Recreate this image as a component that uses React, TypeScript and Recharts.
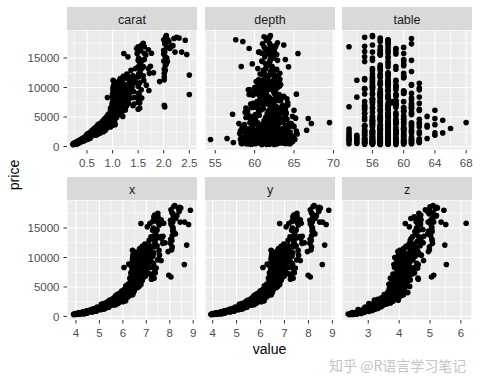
import { CartesianGrid, Scatter, ScatterChart, XAxis, YAxis } from "recharts";

// diamonds sample: one entry per stone, same order in every array
const carat = [
  0.23, 0.23, 0.24, 0.25, 0.25, 0.26, 0.26, 0.27, 0.28, 0.28, 0.29, 0.3, 0.3, 0.3, 0.31, 0.31, 0.32, 0.32, 0.33, 0.33,
  0.34, 0.34, 0.35, 0.35, 0.36, 0.36, 0.37, 0.38, 0.38, 0.39, 0.4, 0.4, 0.4, 0.41, 0.41, 0.24, 0.27, 0.29, 0.31, 0.32,
  0.34, 0.31, 0.4,
  0.42, 0.43, 0.45, 0.45, 0.46, 0.47, 0.5, 0.5, 0.5, 0.51, 0.51, 0.52, 0.52, 0.53, 0.54, 0.54, 0.55, 0.56, 0.56, 0.57,
  0.58, 0.58, 0.6, 0.6, 0.61, 0.62, 0.62, 0.48, 0.44, 0.52, 0.57, 0.55, 0.6, 0.5, 0.55,
  0.65, 0.66, 0.68, 0.7, 0.7, 0.7, 0.71, 0.71, 0.72, 0.72, 0.73, 0.74, 0.75, 0.75, 0.76, 0.77, 0.78, 0.79, 0.8, 0.8,
  0.81, 0.82, 0.83, 0.84, 0.85, 0.86, 0.88, 0.89, 0.9, 0.9, 0.9, 0.67, 0.74, 0.78, 0.86, 0.64, 0.82, 0.88, 0.76, 0.69,
  0.71, 0.82, 0.9,
  0.91, 0.92, 0.93, 0.95, 0.97, 0.99, 1.0, 1.0, 1.0, 1.0, 1.01, 1.01, 1.01, 1.02, 1.02, 1.02, 1.03, 1.03, 1.04, 1.04,
  1.05, 1.05, 1.06, 1.07, 1.07, 1.08, 1.09, 1.1, 1.1, 1.11, 1.12, 1.12, 0.96, 1.01, 1.0, 1.02, 1.05, 1.03, 1.04, 1.02,
  1.01, 1.0, 1.01, 0.95, 1.01, 1.0, 0.98, 1.06, 1.04, 0.95, 1.04, 1.03, 1.1, 1.07, 0.95,
  1.14, 1.15, 1.17, 1.18, 1.2, 1.2, 1.21, 1.22, 1.22, 1.24, 1.25, 1.26, 1.28, 1.3, 1.3, 1.31, 1.33, 1.35, 1.36, 1.38,
  1.4, 1.4, 1.2, 1.27, 1.2, 1.14, 1.2, 1.15, 1.3,
  1.5, 1.5, 1.5, 1.5, 1.51, 1.51, 1.52, 1.52, 1.53, 1.54, 1.55, 1.56, 1.57, 1.58, 1.6, 1.61, 1.62, 1.65, 1.7, 1.71,
  1.72, 1.74, 1.45, 1.42, 1.47, 1.48, 1.62, 1.5, 1.58, 1.6,
  1.92, 2.0, 2.0, 2.0, 2.01, 2.01, 2.01, 2.02, 2.02, 2.03, 2.04, 2.05, 2.05, 2.06, 2.1, 2.14, 2.2, 2.22, 2.25, 2.42,
  2.45, 2.5, 2.5, 2.35, 1.8, 1.76, 2.07, 2.03, 2.08,
  0.3, 0.31, 0.33, 0.35, 0.38, 0.4, 0.42, 0.43, 0.44, 0.45,
  0.46, 0.48, 0.5, 0.5, 0.52, 0.53, 0.55, 0.56, 0.58, 0.59,
  0.6, 0.62, 0.63, 0.65, 0.66, 0.68, 0.7, 0.7, 0.72, 0.74,
  0.76, 0.77, 0.79, 0.8, 0.81, 0.83, 0.85, 0.87, 0.9, 0.91,
  0.96, 0.98, 1.0, 1.0, 1.0, 1.01, 1.01, 1.02, 1.02, 1.03,
  1.03, 1.04, 1.04, 1.05, 1.05, 1.06, 1.07, 1.08, 1.09, 1.1,
  1.11, 1.12, 1.13, 1.14, 1.15, 1.16, 1.18, 1.19, 1.2, 1.2,
  1.21, 1.22, 1.23, 1.24, 1.25, 1.27, 1.29, 1.3, 1.32, 1.34,
  1.4, 1.42, 1.45, 1.5, 1.5, 1.5, 1.51, 1.52, 1.53, 1.55,
  1.57, 1.6, 1.62, 1.66, 1.7, 2.0, 2.01, 2.02, 2.03, 2.04,
  2.01, 2.06, 2.12, 2.18, 2.3, 0.23, 0.25, 0.26, 0.28, 0.29,
  0.3, 0.32, 0.33, 0.34, 0.36, 0.37, 0.39, 0.4, 0.41, 0.43,
  0.45, 0.47, 0.5, 0.51, 0.53, 0.54, 0.57, 0.58, 0.61, 0.63,
  0.7, 0.72, 0.73, 0.75, 0.78, 0.8, 0.82, 0.84, 0.86, 0.88,
  0.9, 0.92, 0.94, 0.96, 0.97, 0.99, 1.0, 1.01, 1.02, 1.03,
  0.32, 0.35, 0.38, 0.41, 0.44, 0.47, 0.5, 0.52, 0.55, 0.58,
  0.6, 0.62, 0.65, 0.68, 0.7, 0.71, 0.73, 0.75, 0.77, 0.8,
  0.81, 0.83, 0.86, 0.88, 0.9, 0.91, 0.93, 0.95, 0.97, 0.99,
  1.0, 1.0, 1.0, 1.01, 1.01, 1.01, 1.02, 1.02, 1.03, 1.03,
  1.04, 1.04, 1.05, 1.05, 1.06, 1.07, 1.08, 1.09, 1.1, 1.1,
  1.11, 1.12, 1.13, 1.15, 1.16, 1.18, 1.19, 1.21, 1.23, 1.25,
  0.26, 0.28, 0.3, 0.31, 0.33, 0.35, 0.37, 0.39, 0.42, 0.46,
  1.3, 1.32, 1.35, 1.38, 1.41, 1.45, 1.5, 1.51, 1.53, 1.54
];

const price = [
  360, 430, 480, 390, 560, 520, 450, 620, 580, 470, 680, 540, 710, 630, 760, 590, 820, 690, 870, 740,
  800, 930, 860, 980, 900, 1050, 950, 1010, 860, 1100, 980, 1190, 1120, 1240, 1060, 350, 400, 500, 480, 560,
  540, 600, 950,
  1150, 1300, 1350, 1420, 1250, 1500, 1380, 1620, 1780, 1550, 1900, 1700, 1460, 1850, 2000, 1600, 2100, 1750, 2250, 1950,
  2300, 2050, 2400, 2150, 2550, 2250, 2700, 1150, 950, 1250, 1550, 1350, 1900, 1220, 1700,
  2400, 2700, 2200, 2850, 2550, 3100, 2700, 3300, 2950, 2450, 3200, 2800, 3450, 2650, 3000, 3600, 3150, 3500, 3750, 3050,
  3900, 3350, 4100, 3600, 4300, 3800, 4550, 4000, 4800, 8300, 3400, 1900, 2300, 2600, 2760, 2950, 2500, 3050, 2300, 2050,
  2300, 2650, 4500,
  3600, 4300, 5100, 4700, 5600, 4200, 5000, 6200, 3900, 7100, 8000, 5500, 9200, 4600, 10300, 6800, 11000, 7600, 5900, 8700,
  9800, 4800, 7300, 10700, 6400, 8400, 5300, 9500, 7800, 6000, 10100, 8900, 3300, 5100, 3600, 4750, 3700, 6150, 4450, 4050,
  3900, 6730, 8360, 5470, 11240, 8870, 6300, 9900, 4000, 5100, 5800, 7600, 9000, 9000, 3900,
  7000, 11500, 5800, 8600, 9900, 6600, 11900, 15760, 7900, 10500, 6200, 8800, 12300, 15200, 9300, 7300, 11000, 8200, 12900, 10000,
  6900, 12000, 5100, 11600, 10500, 10700, 7600, 7400, 12000,
  16900, 13500, 10200, 7500, 15000, 11800, 8800, 14400, 6500, 12700, 16200, 9600, 17200, 13300, 17500, 11200, 14750, 15500, 13200, 9500,
  12400, 13600, 10900, 8300, 16600, 15760, 16900, 16100, 14600, 13560,
  11000, 18100, 16300, 14500, 13100, 11800, 7000, 6700, 17400, 15200, 18600, 18800, 14000, 16800, 17800, 17000, 18300, 16000, 18500, 18000,
  15600, 12100, 8800, 16000, 12500, 15800, 14400, 12900, 18100,
  450, 520, 600, 700, 760, 850, 900, 1050, 1180, 1000,
  1350, 1450, 1250, 2050, 1950, 1550, 2300, 1450, 2500, 1850,
  2650, 2000, 2900, 2100, 3150, 2600, 3500, 2300, 3700, 2500,
  3400, 2800, 4000, 3300, 4300, 3100, 4700, 3500, 5200, 4000,
  6100, 4500, 5800, 8500, 4400, 7400, 9700, 5200, 7900, 10500,
  4200, 6600, 9400, 5600, 8200, 10900, 6900, 4900, 8000, 10400,
  5600, 9200, 6500, 11200, 8100, 5400, 9700, 7100, 11300, 8400,
  6100, 9600, 7200, 11800, 8700, 6800, 10200, 7800, 11400, 9100,
  10700, 7200, 13200, 9000, 14600, 6300, 12300, 16500, 10800, 14000,
  8200, 12000, 15800, 10400, 16400, 15700, 12400, 16000, 13700, 17600,
  11300, 15000, 16600, 17100, 18400, 340, 470, 380, 640, 560,
  800, 660, 950, 720, 1100, 820, 1200, 900, 1350, 1100,
  1600, 1250, 1900, 1400, 2200, 1750, 2400, 1650, 2800, 2350,
  2000, 3300, 2600, 3900, 3000, 4200, 3700, 4600, 4200, 5000,
  3800, 5500, 4400, 6500, 3700, 7200, 4600, 10000, 5700, 8800,
  700, 820, 950, 1000, 1300, 1150, 1500, 2100, 1600, 2200,
  1950, 2500, 2300, 2900, 2600, 3200, 2400, 3100, 3500, 2900,
  3600, 4400, 3300, 4100, 3600, 5000, 4700, 3800, 5300, 4900,
  5300, 6500, 7600, 4300, 6000, 8800, 7000, 9500, 5400, 6600,
  7700, 10100, 6300, 9000, 5900, 8300, 7000, 9800, 6400, 8500,
  7400, 6300, 10000, 7800, 9400, 6800, 10600, 8800, 10100, 7500,
  420, 520, 600, 650, 680, 760, 880, 1000, 1100, 1200,
  8600, 10500, 9600, 11500, 9300, 11700, 8200, 10500, 7400, 13800
];

const depth = [
  61.5, 59.0, 62.8, 61.9, 59.6, 62.4, 61.0, 63.2, 60.7, 61.8, 57.3, 62.1, 61.3, 60.4, 62.6, 63.5, 61.7, 59.2, 62.0, 64.1,
  61.4, 60.9, 62.3, 61.1, 63.0, 58.8, 61.6, 62.2, 61.9, 60.6, 62.7, 54.4, 61.2, 63.4, 59.9, 62.5, 61.6, 62.9, 60.1, 61.2,
  61.7, 62.9, 60.5,
  61.8, 62.4, 56.5, 61.0, 62.9, 60.7, 63.6, 61.9, 61.2, 62.4, 60.3, 62.0, 64.2, 61.5, 62.3, 59.4, 61.8, 62.6, 60.8, 61.3,
  62.1, 63.3, 61.7, 60.2, 62.5, 61.4, 59.8, 61.6, 62.2, 60.9, 58.3, 62.7, 61.1, 62.1, 61.9,
  62.0, 61.3, 63.8, 61.6, 62.4, 60.5, 62.8, 61.2, 61.9, 64.5, 62.2, 60.0, 61.5, 63.1, 62.7, 61.8, 59.6, 62.3, 61.0, 63.5,
  62.1, 60.7, 61.6, 62.9, 61.4, 63.0, 61.9, 60.4, 62.2, 61.7, 65.0, 62.0, 62.5, 65.3, 66.6, 61.0, 61.3, 62.6, 64.0, 60.3,
  62.0, 58.2, 62.3,
  62.8, 61.3, 59.4, 63.4, 61.6, 62.4, 63.9, 60.8, 64.6, 62.2, 61.4, 63.1, 60.0, 59.5, 63.2, 62.7, 60.2, 60.3, 63.6, 59.8,
  61.5, 65.2, 62.1, 61.0, 62.9, 61.8, 60.6, 62.4, 63.3, 59.1, 61.6, 62.6, 64.3, 62.1, 63.9, 66.8, 64.3, 65.0, 62.4, 69.5,
  67.2, 62.0, 61.4, 57.2, 62.6, 65.3, 62.3, 61.0, 62.7, 61.6, 62.2, 61.8, 61.5, 60.0, 58.0,
  62.0, 61.5, 63.4, 61.2, 62.5, 60.4, 61.7, 61.6, 62.8, 61.9, 63.6, 60.9, 62.1, 61.3, 62.4, 59.8, 61.8, 62.9, 61.1, 62.2,
  60.0, 61.6, 64.8, 62.5, 62.3, 61.4, 62.5, 61.8, 61.2,
  61.2, 64.3, 62.0, 60.6, 62.4, 61.7, 63.1, 61.0, 62.7, 62.0, 61.5, 59.4, 63.7, 62.3, 61.9, 60.8, 63.9, 62.0, 61.4, 62.6,
  61.2, 62.2, 62.1, 63.0, 59.3, 65.5, 62.0, 62.5, 62.0, 58.3,
  62.3, 61.7, 62.4, 60.9, 62.8, 61.4, 64.2, 62.6, 61.0, 62.1, 61.2, 62.0, 59.7, 62.6, 58.5, 62.3, 61.6, 60.5, 61.9, 61.5,
  62.8, 63.0, 62.9, 62.3, 61.2, 61.7, 61.9, 62.5, 57.6,
  58.4, 64.2, 59.1, 63.8, 58.6, 64.7, 59.3, 63.2, 58.2, 64.0,
  59.0, 63.9, 58.5, 62.8, 59.6, 64.6, 60.2, 63.0, 61.5, 58.8,
  62.9, 64.4, 59.2, 65.4, 60.9, 58.7, 62.5, 63.7, 61.1, 58.9,
  64.9, 59.9, 62.6, 58.4, 63.4, 64.1, 60.1, 62.3, 63.9, 59.4,
  60.5, 63.7, 58.8, 62.7, 61.2, 64.2, 61.9, 60.0, 63.0, 62.5,
  61.5, 59.6, 61.1, 64.0, 60.7, 62.0, 63.5, 58.9, 62.4, 60.4,
  63.8, 59.5, 62.2, 61.3, 64.1, 60.1, 62.7, 61.0, 60.5, 63.5,
  61.8, 59.2, 62.4, 61.6, 63.0, 60.3, 62.9, 61.4, 63.2, 60.8,
  62.8, 61.5, 60.4, 62.5, 62.9, 63.9, 60.7, 61.8, 63.1, 61.4,
  61.9, 62.6, 60.9, 62.3, 61.6, 62.2, 63.2, 60.6, 61.8, 62.9,
  61.5, 62.1, 61.3, 62.7, 61.8, 60.9, 64.5, 59.6, 63.9, 58.3,
  64.8, 59.1, 63.6, 58.6, 64.3, 59.8, 65.1, 58.4, 63.7, 60.2,
  58.8, 64.4, 59.4, 63.8, 58.1, 64.9, 59.7, 63.3, 58.6, 64.2,
  59.2, 63.9, 58.5, 64.6, 59.0, 63.5, 58.7, 64.1, 59.6, 63.0,
  64.4, 59.1, 63.7, 58.9, 64.7, 59.5, 63.2, 60.0, 64.0, 59.3,
  60.2, 63.3, 59.5, 62.8, 60.6, 63.6, 59.9, 62.2, 60.4, 63.4,
  59.7, 62.6, 60.8, 63.0, 59.3, 62.4, 60.5, 63.8, 61.0, 62.9,
  59.8, 62.0, 60.7, 63.3, 61.2, 59.6, 62.8, 60.3, 63.1, 61.4,
  60.1, 63.2, 61.6, 59.7, 62.9, 60.9, 63.6, 60.4, 62.5, 59.9,
  62.1, 60.6, 63.0, 59.5, 61.8, 63.4, 60.2, 62.6, 61.1, 63.7,
  60.3, 62.5, 60.8, 63.1, 61.5, 59.6, 62.8, 60.5, 63.0, 61.2,
  59.4, 63.9, 58.7, 64.5, 59.8, 63.7, 58.9, 64.1, 59.5, 63.5,
  60.7, 62.6, 61.0, 63.0, 60.2, 62.5, 61.3, 63.3, 60.8, 61.9
];

const table = [
  56, 58, 57, 55, 60, 56, 57, 58, 59, 53, 62, 55, 56, 57, 54, 58, 59, 61, 56, 55,
  57, 58, 60, 53, 57, 61, 56, 55, 62, 58, 57, 61, 59, 56, 60, 59, 60, 54, 56, 57,
  56, 61, 62,
  57, 56, 63, 58, 55, 59, 57, 56, 60, 58, 55, 57, 54, 56, 59, 61, 57, 58, 56, 55,
  60, 57, 58, 62, 56, 59, 57, 53, 61, 62, 60, 53, 64, 55, 53,
  57, 56, 58, 55, 59, 57, 60, 56, 58, 55, 57, 61, 56, 59, 58, 57, 60, 55, 58, 57,
  56, 62, 59, 57, 58, 56, 60, 61, 57, 58, 55, 54, 64, 58, 59, 53, 53, 66, 65, 53,
  56, 60, 55,
  58, 56, 57, 59, 55, 60, 58, 57, 56, 59, 56, 61, 57, 62, 58, 55, 56, 60, 57, 59,
  55, 58, 61, 57, 56, 62, 59, 58, 57, 60, 56, 55, 63, 63, 63, 64, 64, 64, 65, 68,
  59, 53, 54, 58, 54, 58, 62, 62, 62, 56, 56, 55, 61, 60, 61,
  57, 55, 58, 59, 56, 60, 58, 57, 61, 57, 55, 59, 56, 58, 60, 62, 57, 58, 56, 59,
  61, 57, 58, 60, 61, 62, 58.5, 58.5, 60,
  57, 58, 59, 56, 56, 60, 57, 55, 61, 61, 58, 62, 56, 57, 58, 59, 60, 57, 56, 58,
  60, 57, 58, 57, 58, 60, 53, 55, 61, 59,
  59, 58, 57, 60, 59, 56, 58, 61, 61, 55, 56, 56, 58, 60, 57, 55, 61, 59, 55, 58,
  57, 58, 59, 56, 58, 57, 58, 57, 57,
  61, 57, 60, 55, 62, 56, 59, 54, 60, 57,
  61, 55, 62, 56, 58, 58, 57, 54, 56, 60,
  55, 58, 60, 56, 57, 61, 58, 59, 56, 62,
  57, 59, 58, 61, 56, 60, 57, 55, 58, 60,
  57, 56, 61, 58, 59, 57, 55, 60, 56, 57,
  58, 59, 60, 55, 61, 58, 59, 57, 56, 59,
  58, 57, 60, 58, 56, 59, 57, 61, 55, 58,
  62, 56, 59, 60, 57, 58, 56, 59, 58, 57,
  58, 59, 57, 60, 56, 58, 57, 59, 56, 60,
  58, 57, 58, 61, 57, 59, 58, 57, 60, 58,
  56, 58, 59, 58, 57, 57, 56, 58, 56, 57,
  58, 60, 56, 59, 57, 55, 56, 58, 57, 60,
  56, 57, 58, 59, 55, 57, 58, 56, 57, 58,
  57, 58, 56, 59, 57, 56, 58, 60, 57, 56,
  59, 58, 57, 55, 60, 56, 57, 58, 59, 57,
  58, 57, 56, 59, 55, 58, 57, 60, 56, 59,
  58, 55, 61, 57, 56, 59, 58, 60, 55, 57,
  61, 56, 58, 59, 57, 60, 56, 62, 58, 55,
  57, 58, 56, 59, 60, 57, 55, 58, 61, 56,
  57, 59, 58, 56, 60, 57, 58, 55, 61, 59,
  58, 57, 56, 59, 60, 57, 58, 56, 59, 57,
  57, 56, 58, 55, 59, 56, 60, 57, 58, 56,
  57, 58, 59, 56, 60, 57, 58, 56, 59, 57
];

const xLen = [
  3.9, 3.97, 3.96, 4.05, 4.1, 4.09, 4.11, 4.12, 4.22, 4.19, 4.33, 4.28, 4.3, 4.32, 4.33, 4.31, 4.4, 4.44, 4.45, 4.4,
  4.49, 4.5, 4.52, 4.54, 4.55, 4.62, 4.6, 4.64, 4.65, 4.71, 4.71, 4.9, 4.74, 4.74, 4.81, 3.98, 4.14, 4.2, 4.36, 4.41,
  4.47, 4.33, 4.77,
  4.8, 4.83, 5.05, 4.93, 4.93, 5.03, 5.04, 5.1, 5.13, 5.12, 5.18, 5.16, 5.1, 5.19, 5.22, 5.29, 5.26, 5.29, 5.32, 5.33,
  5.35, 5.33, 5.42, 5.46, 5.44, 5.48, 5.52, 5.05, 4.88, 5.18, 5.4, 5.24, 5.44, 5.08, 5.25,
  5.56, 5.61, 5.6, 5.7, 5.68, 5.74, 5.71, 5.75, 5.75, 5.66, 5.78, 5.85, 5.83, 5.8, 5.84, 5.88, 5.97, 5.92, 5.97, 5.91,
  5.98, 6.03, 6.03, 6.03, 6.07, 6.06, 6.13, 6.18, 6.16, 6.05, 6.05, 5.6, 5.8, 5.8, 5.95, 5.56, 6.0, 6.12, 5.8, 5.7,
  5.7, 6.12, 6.16,
  6.17, 6.23, 6.24, 6.23, 6.34, 6.35, 6.38, 6.43, 6.28, 6.37, 6.42, 6.36, 6.41, 6.51, 6.43, 6.41, 6.45, 6.5, 6.41, 6.47,
  6.51, 6.38, 6.53, 6.57, 6.51, 6.57, 6.63, 6.58, 6.56, 6.71, 6.64, 6.62, 6.22, 6.4, 6.3, 6.25, 6.42, 6.36, 6.47, 6.15,
  6.18, 6.39, 6.45, 6.4, 6.41, 6.25, 6.33, 6.55, 6.45, 6.3, 6.47, 6.46, 6.62, 6.6, 6.38,
  6.68, 6.72, 6.7, 6.8, 6.79, 6.87, 6.83, 6.77, 6.81, 6.88, 6.83, 6.95, 6.94, 7.04, 6.98, 7.08, 7.03, 7.04, 7.12, 7.11,
  7.22, 7.15, 6.68, 6.95, 6.8, 6.7, 6.78, 6.72, 7.01,
  7.32, 7.2, 7.28, 7.36, 7.3, 7.33, 7.31, 7.38, 7.33, 7.37, 7.41, 7.48, 7.36, 7.45, 7.49, 7.54, 7.45, 7.55, 7.65, 7.63,
  7.7, 7.71, 7.22, 7.15, 7.37, 7.15, 7.5, 7.27, 7.45, 7.6,
  7.93, 8.05, 8.03, 8.12, 8.04, 8.1, 7.96, 8.05, 8.13, 8.11, 8.16, 8.21, 8.24, 8.15, 8.4, 8.28, 8.38, 8.44, 8.42, 8.88,
  8.8, 8.72, 8.62, 8.63, 7.8, 7.74, 8.17, 8.09, 8.4,
  4.3, 4.3, 4.45, 4.48, 4.7, 4.66, 4.86, 4.82, 4.95, 4.87,
  5.02, 4.98, 5.17, 5.08, 5.21, 5.12, 5.3, 5.27, 5.36, 5.45,
  5.4, 5.42, 5.57, 5.49, 5.62, 5.72, 5.69, 5.66, 5.76, 5.86,
  5.78, 5.92, 5.92, 6.03, 5.95, 5.98, 6.11, 6.11, 6.13, 6.26,
  6.33, 6.3, 6.46, 6.36, 6.4, 6.34, 6.41, 6.48, 6.4, 6.44,
  6.46, 6.52, 6.49, 6.44, 6.53, 6.52, 6.5, 6.63, 6.58, 6.64,
  6.57, 6.7, 6.66, 6.69, 6.64, 6.77, 6.74, 6.8, 6.84, 6.76,
  6.82, 6.9, 6.85, 6.87, 6.85, 6.96, 6.93, 6.98, 6.97, 7.07,
  7.12, 7.18, 7.26, 7.29, 7.27, 7.22, 7.36, 7.34, 7.32, 7.4,
  7.42, 7.46, 7.53, 7.56, 7.63, 8.05, 8.03, 8.13, 8.1, 8.09,
  8.08, 8.14, 8.25, 8.3, 8.47, 3.91, 4.07, 4.07, 4.21, 4.28,
  4.3, 4.38, 4.46, 4.47, 4.59, 4.58, 4.7, 4.73, 4.79, 4.85,
  4.91, 5.0, 5.12, 5.11, 5.19, 5.25, 5.32, 5.38, 5.45, 5.52,
  5.7, 5.77, 5.77, 5.84, 5.9, 5.96, 5.99, 6.07, 6.09, 6.15,
  6.18, 6.23, 6.26, 6.3, 6.33, 6.38, 6.37, 6.42, 6.43, 6.45,
  4.43, 4.49, 4.7, 4.75, 4.91, 4.94, 5.15, 5.15, 5.3, 5.31,
  5.48, 5.46, 5.6, 5.62, 5.77, 5.71, 5.82, 5.77, 5.9, 5.92,
  6.04, 6.02, 6.12, 6.1, 6.2, 6.27, 6.22, 6.33, 6.29, 6.38,
  6.44, 6.33, 6.39, 6.48, 6.37, 6.44, 6.37, 6.48, 6.43, 6.52,
  6.46, 6.51, 6.46, 6.58, 6.52, 6.48, 6.61, 6.55, 6.62, 6.54,
  6.67, 6.62, 6.69, 6.66, 6.73, 6.83, 6.75, 6.86, 6.81, 6.9,
  4.14, 4.15, 4.36, 4.28, 4.5, 4.47, 4.68, 4.63, 4.87, 4.91,
  7.0, 6.98, 7.08, 7.07, 7.21, 7.2, 7.31, 7.27, 7.38, 7.37
];

const yWid = [
  3.93, 4.0, 3.99, 4.08, 4.12, 4.11, 4.14, 4.15, 4.25, 4.22, 4.36, 4.31, 4.33, 4.35, 4.36, 4.33, 4.42, 4.47, 4.47, 4.42,
  4.51, 4.53, 4.55, 4.56, 4.57, 4.65, 4.63, 4.67, 4.68, 4.74, 4.73, 4.93, 4.77, 4.76, 4.84, 4.01, 4.17, 4.23, 4.39, 4.44,
  4.5, 4.36, 4.8,
  4.83, 4.86, 5.08, 4.96, 4.96, 5.06, 5.07, 5.13, 5.15, 5.15, 5.21, 5.19, 5.12, 5.22, 5.25, 5.32, 5.29, 5.31, 5.35, 5.36,
  5.38, 5.35, 5.45, 5.48, 5.47, 5.51, 5.55, 5.08, 4.91, 5.21, 5.43, 5.27, 5.47, 5.11, 5.28,
  5.59, 5.64, 5.62, 5.73, 5.71, 5.77, 5.74, 5.78, 5.78, 5.69, 5.81, 5.88, 5.86, 5.83, 5.87, 5.91, 6.0, 5.95, 6.0, 5.94,
  6.01, 6.06, 6.06, 6.06, 6.1, 6.09, 6.16, 6.21, 6.19, 6.1, 6.08, 5.63, 5.83, 5.83, 5.98, 5.59, 6.03, 6.15, 5.83, 5.73,
  5.73, 6.15, 6.19,
  6.2, 6.26, 6.27, 6.26, 6.37, 6.38, 6.41, 6.46, 6.31, 6.4, 6.45, 6.39, 6.44, 6.54, 6.46, 6.44, 6.48, 6.53, 6.44, 6.5,
  6.54, 6.41, 6.56, 6.6, 6.54, 6.6, 6.66, 6.61, 6.59, 6.74, 6.67, 6.65, 6.25, 6.43, 6.33, 6.28, 6.45, 6.39, 6.5, 6.18,
  6.21, 6.42, 6.48, 6.43, 6.44, 6.28, 6.36, 6.58, 6.48, 6.33, 6.5, 6.49, 6.65, 6.63, 6.41,
  6.71, 6.75, 6.73, 6.83, 6.82, 6.9, 6.86, 6.8, 6.84, 6.91, 6.86, 6.98, 6.97, 7.07, 7.01, 7.11, 7.06, 7.07, 7.15, 7.14,
  7.25, 7.18, 6.71, 6.98, 6.83, 6.73, 6.81, 6.75, 7.04,
  7.35, 7.23, 7.31, 7.39, 7.33, 7.36, 7.34, 7.41, 7.36, 7.4, 7.44, 7.51, 7.39, 7.48, 7.52, 7.57, 7.48, 7.58, 7.68, 7.66,
  7.73, 7.74, 7.25, 7.18, 7.4, 7.18, 7.53, 7.3, 7.48, 7.63,
  7.96, 8.08, 8.06, 8.15, 8.07, 8.13, 7.99, 8.08, 8.16, 8.14, 8.19, 8.24, 8.27, 8.18, 8.43, 8.31, 8.41, 8.47, 8.45, 8.85,
  8.74, 8.68, 8.58, 8.59, 7.83, 7.7, 8.2, 8.12, 8.44,
  4.33, 4.33, 4.48, 4.51, 4.73, 4.69, 4.89, 4.85, 4.98, 4.9,
  5.05, 5.01, 5.2, 5.11, 5.24, 5.15, 5.33, 5.3, 5.39, 5.48,
  5.43, 5.45, 5.6, 5.52, 5.65, 5.75, 5.72, 5.69, 5.79, 5.89,
  5.81, 5.95, 5.95, 6.06, 5.98, 6.01, 6.14, 6.14, 6.16, 6.29,
  6.36, 6.33, 6.49, 6.39, 6.43, 6.37, 6.44, 6.51, 6.43, 6.47,
  6.49, 6.55, 6.52, 6.47, 6.56, 6.55, 6.53, 6.66, 6.61, 6.67,
  6.6, 6.73, 6.69, 6.72, 6.67, 6.8, 6.77, 6.83, 6.87, 6.79,
  6.85, 6.93, 6.88, 6.9, 6.88, 6.99, 6.96, 7.01, 7.0, 7.1,
  7.15, 7.21, 7.29, 7.32, 7.3, 7.25, 7.39, 7.37, 7.35, 7.43,
  7.45, 7.49, 7.56, 7.59, 7.66, 8.08, 8.06, 8.16, 8.13, 8.12,
  8.11, 8.17, 8.28, 8.33, 8.5, 3.94, 4.1, 4.1, 4.24, 4.31,
  4.33, 4.41, 4.49, 4.5, 4.62, 4.61, 4.73, 4.76, 4.82, 4.88,
  4.94, 5.03, 5.15, 5.14, 5.22, 5.28, 5.35, 5.41, 5.48, 5.55,
  5.73, 5.8, 5.8, 5.87, 5.93, 5.99, 6.02, 6.1, 6.12, 6.18,
  6.21, 6.26, 6.29, 6.33, 6.36, 6.41, 6.4, 6.45, 6.46, 6.48,
  4.46, 4.52, 4.73, 4.78, 4.94, 4.97, 5.18, 5.18, 5.33, 5.34,
  5.51, 5.49, 5.63, 5.65, 5.8, 5.74, 5.85, 5.8, 5.93, 5.95,
  6.07, 6.05, 6.15, 6.13, 6.23, 6.3, 6.25, 6.36, 6.32, 6.41,
  6.47, 6.36, 6.42, 6.51, 6.4, 6.47, 6.4, 6.51, 6.46, 6.55,
  6.49, 6.54, 6.49, 6.61, 6.55, 6.51, 6.64, 6.58, 6.65, 6.57,
  6.7, 6.65, 6.72, 6.69, 6.76, 6.86, 6.78, 6.89, 6.84, 6.93,
  4.17, 4.18, 4.39, 4.31, 4.53, 4.5, 4.71, 4.66, 4.9, 4.94,
  7.03, 7.01, 7.11, 7.1, 7.24, 7.23, 7.34, 7.3, 7.41, 7.4
];

const zDep = [
  2.41, 2.35, 2.5, 2.52, 2.45, 2.56, 2.52, 2.61, 2.57, 2.6, 2.49, 2.67, 2.65, 2.62, 2.72, 2.74, 2.72, 2.64, 2.76, 2.83,
  2.76, 2.75, 2.82, 2.78, 2.87, 2.72, 2.84, 2.89, 2.89, 2.86, 2.96, 2.67, 2.91, 3.01, 2.89, 2.49, 2.56, 2.65, 2.63, 2.71,
  2.77, 2.73, 2.89,
  2.98, 3.02, 2.86, 3.02, 3.11, 3.06, 3.22, 3.17, 3.15, 3.2, 3.13, 3.21, 3.28, 3.2, 3.26, 3.15, 3.26, 3.32, 3.24, 3.27,
  3.33, 3.38, 3.35, 3.29, 3.41, 3.37, 3.31, 3.12, 3.04, 3.16, 3.16, 3.29, 3.33, 3.16, 3.26,
  3.46, 3.45, 3.58, 3.52, 3.55, 3.48, 3.59, 3.53, 3.57, 3.66, 3.6, 3.52, 3.59, 3.67, 3.67, 3.64, 3.57, 3.7, 3.65, 3.76,
  3.72, 3.67, 3.72, 3.8, 3.74, 3.83, 3.8, 3.74, 3.84, 3.85, 3.94, 3.48, 3.63, 3.8, 3.97, 3.4, 3.69, 3.84, 3.72, 3.44,
  3.54, 3.57, 3.85,
  3.88, 3.83, 3.88, 3.96, 3.91, 3.97, 3.96, 3.92, 4.07, 3.97, 3.95, 4.02, 3.98, 3.88, 3.98, 4.03, 3.96, 3.93, 4.09, 4.04,
  4.01, 4.17, 4.06, 4.01, 4.1, 4.07, 4.02, 4.11, 4.16, 3.97, 4.1, 4.15, 4.01, 3.98, 4.03, 4.18, 4.14, 4.14, 4.04, 4.28,
  4.16, 3.97, 3.97, 3.67, 4.02, 4.09, 3.95, 4.0, 4.05, 3.89, 4.03, 4.0, 4.08, 3.97, 3.71,
  4.15, 4.14, 4.26, 4.17, 4.25, 4.16, 4.22, 4.2, 4.29, 4.27, 4.36, 4.24, 4.32, 4.33, 4.36, 4.24, 4.35, 4.43, 4.36, 4.43,
  4.34, 4.41, 4.34, 4.35, 4.24, 4.12, 4.25, 4.16, 4.3,
  4.49, 4.64, 4.52, 4.47, 4.56, 4.53, 4.62, 4.51, 4.61, 4.58, 4.57, 4.45, 4.7, 4.65, 4.64, 4.59, 4.77, 4.69, 4.71, 4.79,
  4.72, 4.8, 4.49, 4.51, 4.38, 4.69, 4.66, 4.55, 4.63, 4.44,
  4.95, 4.98, 5.02, 4.95, 5.06, 4.98, 5.12, 5.05, 4.97, 5.05, 5.0, 5.1, 4.93, 5.11, 4.92, 5.17, 5.17, 5.12, 5.22, 5.45,
  5.51, 5.48, 5.53, 5.36, 4.78, 6.17, 5.07, 5.07, 4.85,
  2.52, 2.77, 2.64, 2.87, 2.76, 3.02, 2.89, 3.06, 2.89, 3.13,
  2.97, 3.19, 3.03, 3.2, 3.11, 3.32, 3.2, 3.33, 3.31, 3.21,
  3.41, 3.5, 3.31, 3.6, 3.43, 3.37, 3.57, 3.62, 3.53, 3.46,
  3.76, 3.56, 3.72, 3.53, 3.78, 3.84, 3.68, 3.82, 3.93, 3.73,
  3.84, 4.02, 3.81, 4.0, 3.93, 4.08, 3.98, 3.9, 4.04, 4.03,
  3.98, 3.89, 3.97, 4.13, 3.97, 4.05, 4.14, 3.91, 4.12, 4.02,
  4.2, 4.0, 4.15, 4.11, 4.27, 4.08, 4.24, 4.16, 4.15, 4.3,
  4.22, 4.09, 4.28, 4.24, 4.32, 4.21, 4.37, 4.29, 4.41, 4.31,
  4.48, 4.42, 4.39, 4.57, 4.58, 4.62, 4.48, 4.55, 4.63, 4.55,
  4.6, 4.68, 4.59, 4.72, 4.71, 5.02, 5.08, 4.94, 5.02, 5.1,
  4.98, 5.06, 5.07, 5.21, 5.24, 2.39, 2.63, 2.43, 2.7, 2.5,
  2.8, 2.6, 2.85, 2.63, 2.96, 2.75, 3.07, 2.77, 3.06, 2.93,
  2.9, 3.23, 3.05, 3.27, 3.02, 3.42, 3.19, 3.42, 3.2, 3.55,
  3.38, 3.7, 3.38, 3.78, 3.49, 3.79, 3.52, 3.9, 3.64, 3.88,
  3.99, 3.69, 4.0, 3.72, 4.11, 3.8, 4.04, 3.86, 4.12, 3.83,
  2.68, 2.85, 2.81, 2.99, 2.98, 3.15, 3.09, 3.21, 3.21, 3.38,
  3.28, 3.43, 3.41, 3.55, 3.43, 3.57, 3.53, 3.69, 3.61, 3.73,
  3.62, 3.74, 3.72, 3.87, 3.8, 3.75, 3.92, 3.83, 3.98, 3.93,
  3.88, 4.01, 3.95, 3.88, 4.02, 3.93, 4.06, 3.92, 4.03, 3.91,
  4.02, 3.95, 4.08, 3.92, 4.04, 4.12, 3.99, 4.11, 4.05, 4.18,
  4.03, 4.15, 4.08, 4.21, 4.15, 4.08, 4.25, 4.16, 4.3, 4.23,
  2.47, 2.66, 2.57, 2.77, 2.7, 2.86, 2.77, 2.98, 2.91, 3.13,
  4.26, 4.38, 4.33, 4.46, 4.35, 4.51, 4.49, 4.61, 4.5, 4.57
];

const priceTicks = [0, 5000, 10000, 15000];
const priceMinor = [2500, 7500, 12500, 17500];

const facets = [
  { name: "carat", values: carat, domain: [0.11, 2.65], ticks: [0.5, 1, 1.5, 2, 2.5], minor: [0.25, 0.75, 1.25, 1.75, 2.25], digits: 1 },
  { name: "depth", values: depth, domain: [53.7, 70.2], ticks: [55, 60, 65, 70], minor: [57.5, 62.5, 67.5], digits: 0 },
  { name: "table", values: table, domain: [52.1, 68.75], ticks: [56, 60, 64, 68], minor: [54, 58, 62, 66], digits: 0 },
  { name: "x", values: xLen, domain: [3.62, 9.16], ticks: [4, 5, 6, 7, 8, 9], minor: [4.5, 5.5, 6.5, 7.5, 8.5], digits: 0 },
  { name: "y", values: yWid, domain: [3.68, 9.11], ticks: [4, 5, 6, 7, 8, 9], minor: [4.5, 5.5, 6.5, 7.5, 8.5], digits: 0 },
  { name: "z", values: zDep, domain: [2.15, 6.36], ticks: [3, 4, 5, 6], minor: [2.5, 3.5, 4.5, 5.5], digits: 0 }
];

const FONT = "'Liberation Sans', Arial, sans-serif";
const PANEL_W = 130;
const PANEL_H = 120;
const STRIP_H = 23;
const AXIS_W = 67;
const AXIS_H = 30;
const PAD_R = 10;
const colLeft = [67, 205, 342];
const rowTop = [30, 200];

const tickText = { fontSize: 11.5, fill: "#4D4D4D", fontFamily: FONT };

const Dot = (props: any) => <circle cx={props.cx} cy={props.cy} r={2.8} fill="#000000" />;

function Facet({ facet, index }: { facet: (typeof facets)[number]; index: number }) {
  const col = index % 3;
  const row = Math.floor(index / 3);
  const showY = col === 0;
  const data = facet.values.map((v, i) => ({ value: v, price: price[i] }));

  return (
    <>
      <div
        style={{
          position: "absolute",
          left: colLeft[col],
          top: rowTop[row] - STRIP_H,
          width: PANEL_W,
          height: STRIP_H,
          background: "#D9D9D9",
          color: "#1A1A1A",
          fontSize: 12.5,
          lineHeight: `${STRIP_H + 4}px`,
          textAlign: "center"
        }}
      >
        {facet.name}
      </div>
      <div style={{ position: "absolute", left: colLeft[col] - (showY ? AXIS_W : 0), top: rowTop[row] }}>
        <ScatterChart
          width={PANEL_W + (showY ? AXIS_W : 0) + PAD_R}
          height={PANEL_H + AXIS_H}
          margin={{ top: 0, right: PAD_R, bottom: 0, left: 0 }}
        >
          <CartesianGrid
            fill="#EBEBEB"
            stroke="#FFFFFF"
            strokeWidth={0.55}
            horizontalValues={priceMinor}
            verticalValues={facet.minor}
          />
          <CartesianGrid stroke="#FFFFFF" strokeWidth={1.1} />
          <XAxis
            type="number"
            dataKey="value"
            domain={facet.domain}
            ticks={facet.ticks}
            interval={0}
            allowDataOverflow
            height={AXIS_H}
            axisLine={false}
            tickLine={{ stroke: "#333333" }}
            tickSize={3.5}
            tickMargin={5.5}
            tick={tickText}
            tickFormatter={(v: number) => v.toFixed(facet.digits)}
          />
          <YAxis
            type="number"
            dataKey="price"
            domain={[-600, 19750]}
            ticks={priceTicks}
            interval={0}
            allowDataOverflow
            width={AXIS_W}
            hide={!showY}
            axisLine={false}
            tickLine={{ stroke: "#333333" }}
            tickSize={3.5}
            tickMargin={4}
            tick={tickText}
          />
          <Scatter data={data} shape={Dot} isAnimationActive={false} />
        </ScatterChart>
      </div>
    </>
  );
}

export default function App() {
  return (
    <div
      style={{
        position: "absolute",
        left: 0,
        top: 0,
        width: 480,
        height: 384,
        background: "#FFFFFF",
        fontFamily: FONT,
        overflow: "hidden"
      }}
    >
      {facets.map((f, i) => (
        <Facet key={f.name} facet={f} index={i} />
      ))}
      <div
        style={{
          position: "absolute",
          left: 14,
          top: 175,
          transform: "translate(-50%, -50%) rotate(-90deg)",
          fontSize: 14,
          color: "#000000"
        }}
      >
        price
      </div>
      <div
        style={{
          position: "absolute",
          left: 269.5,
          top: 349,
          transform: "translate(-50%, -50%)",
          fontSize: 14,
          color: "#000000"
        }}
      >
        value
      </div>
      <div
        style={{
          position: "absolute",
          left: 329,
          top: 355,
          fontSize: 14,
          color: "#C4C4C4",
          fontFamily: "'Noto Sans CJK SC', sans-serif",
          whiteSpace: "nowrap"
        }}
      >
        知乎 @R语言学习笔记
      </div>
    </div>
  );
}
